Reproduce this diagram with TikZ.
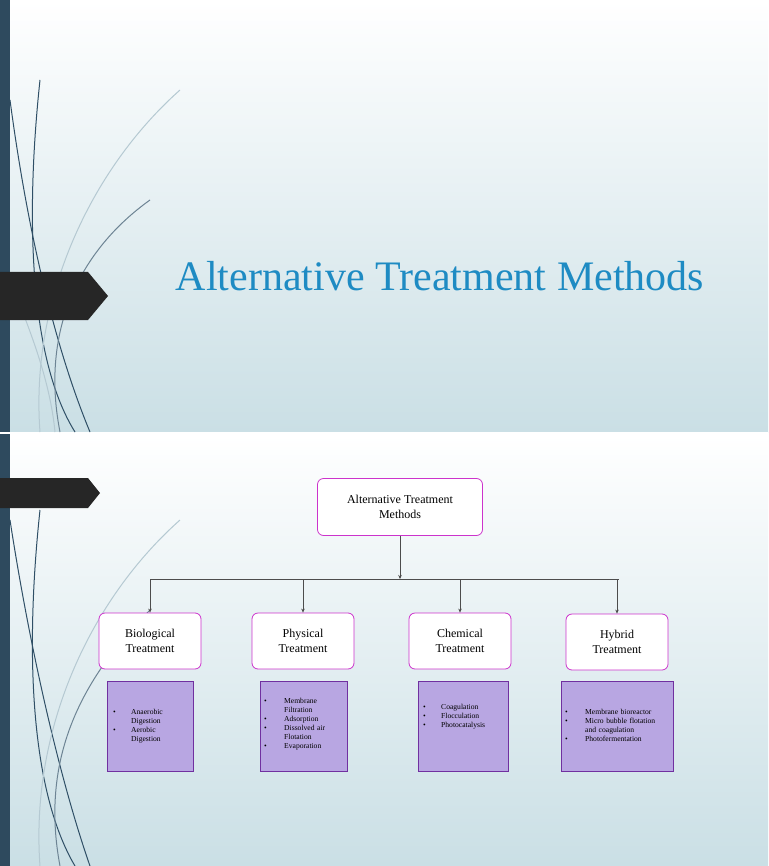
\documentclass[tikz,border=0pt]{standalone}
\usepackage{fontspec}
\setmainfont{Liberation Serif}
\usetikzlibrary{arrows.meta}
\definecolor{bar}{HTML}{2E4A5E}
\definecolor{bgb}{HTML}{CADFE5}
\definecolor{ttl}{HTML}{1E8BC3}
\definecolor{mag}{HTML}{CC33CC}
\definecolor{subf}{HTML}{B8A6E2}
\definecolor{subd}{HTML}{7030A0}
\definecolor{cdark}{HTML}{2F4F66}
\definecolor{clight}{HTML}{B5C9D2}
\begin{document}
\begin{tikzpicture}[x=1pt,y=-1pt,
  top/.style={draw=mag,rounded corners=6pt,fill=white,line width=0.8pt,align=center,font=\fontsize{12}{15}\selectfont,inner sep=0pt},
  sub/.style={draw=subd,fill=subf,line width=0.6pt,inner sep=0pt},
  lst/.style={align=left,font=\fontsize{7.6}{9}\selectfont,text width=#1,anchor=west,inner sep=0pt},
  arr/.style={-{Stealth[length=4pt,width=3.5pt]},draw=black!70,line width=0.5pt},
  curve/.style={draw=#1,line width=1pt}]
\useasboundingbox (0,0) rectangle (768,866);
\shade[top color=white,bottom color=bgb] (0,0) rectangle (768,432);
\shade[top color=white,bottom color=bgb] (0,434) rectangle (768,866);
\fill[white] (0,432) rectangle (768,434);
\begin{scope}
\clip (0,0) rectangle (768,432);
\draw[curve=cdark] (10,100) .. controls (30,250) and (60,360) .. (90,432);
\draw[curve=cdark] (40,80) .. controls (25,220) and (30,360) .. (75,432);
\draw[curve=cdark!70] (150,200) .. controls (80,250) and (40,330) .. (60,432);
\draw[curve=clight] (180,90) .. controls (90,170) and (30,300) .. (40,432);
\draw[curve=clight] (10,280) .. controls (30,330) and (50,380) .. (55,432);
\end{scope}
\begin{scope}
\clip (0,434) rectangle (768,866);
\draw[curve=cdark] (10,520) .. controls (30,650) and (60,780) .. (90,866);
\draw[curve=cdark] (40,510) .. controls (25,650) and (30,790) .. (75,866);
\draw[curve=cdark!70] (150,610) .. controls (80,680) and (40,760) .. (60,866);
\draw[curve=clight] (180,520) .. controls (90,600) and (30,730) .. (40,866);
\end{scope}
\fill[bar] (0,0) rectangle (10,432);
\fill[bar] (0,434) rectangle (10,866);
\fill[black!85] (0,272) -- (88,272) -- (108,296) -- (88,320) -- (0,320) -- cycle;
\fill[black!85] (0,478) -- (88,478) -- (100,493) -- (88,508) -- (0,508) -- cycle;
\node[text=ttl,font=\fontsize{42}{48}\selectfont] (title) at (440,276) {Alternative Treatment Methods};
\node[top,minimum width=165,minimum height=57] (root) at (400,507) {Alternative Treatment\\Methods};
\node[top,minimum width=102,minimum height=56] (bio) at (150,641) {Biological\\Treatment};
\node[top,minimum width=102,minimum height=56] (phy) at (303,641) {Physical\\Treatment};
\node[top,minimum width=102,minimum height=56] (che) at (460,641) {Chemical\\Treatment};
\node[top,minimum width=102,minimum height=56] (hyb) at (617,642) {Hybrid\\Treatment};
\coordinate (j) at (400,579);
\draw[arr] (root) -- (j);
\draw[draw=black!70,line width=0.5pt] (150,579) -- (619,579);
\draw[arr] (150,579) -- (bio.north);
\draw[arr] (303,579) -- (phy.north);
\draw[arr] (460,579) -- (che.north);
\draw[arr] (617,579) -- (hyb.north);
\node[sub,minimum width=86,minimum height=90] (s1) at (150.5,726) {};
\node[sub,minimum width=87,minimum height=90] (s2) at (303.5,726) {};
\node[sub,minimum width=90,minimum height=90] (s3) at (463,726) {};
\node[sub,minimum width=112,minimum height=90] (s4) at (617,726) {};
\node[lst=80] at (113,726) {%
\makebox[18pt][l]{\textbullet}Anaerobic\\\hspace*{18pt}Digestion\\\makebox[18pt][l]{\textbullet}Aerobic\\\hspace*{18pt}Digestion};
\node[lst=86] at (264,724) {%
\makebox[20pt][l]{\textbullet}Membrane\\\hspace*{20pt}Filtration\\\makebox[20pt][l]{\textbullet}Adsorption\\\makebox[20pt][l]{\textbullet}Dissolved air\\\hspace*{20pt}Flotation\\\makebox[20pt][l]{\textbullet}Evaporation};
\node[lst=88] at (423,717) {%
\makebox[18pt][l]{\textbullet}Coagulation\\\makebox[18pt][l]{\textbullet}Flocculation\\\makebox[18pt][l]{\textbullet}Photocatalysis};
\node[lst=112] at (565,725) {%
\makebox[20pt][l]{\textbullet}Membrane bioreactor\\\makebox[20pt][l]{\textbullet}Micro bubble flotation\\\hspace*{20pt}and coagulation\\\makebox[20pt][l]{\textbullet}Photofermentation};
\end{tikzpicture}
\end{document}
